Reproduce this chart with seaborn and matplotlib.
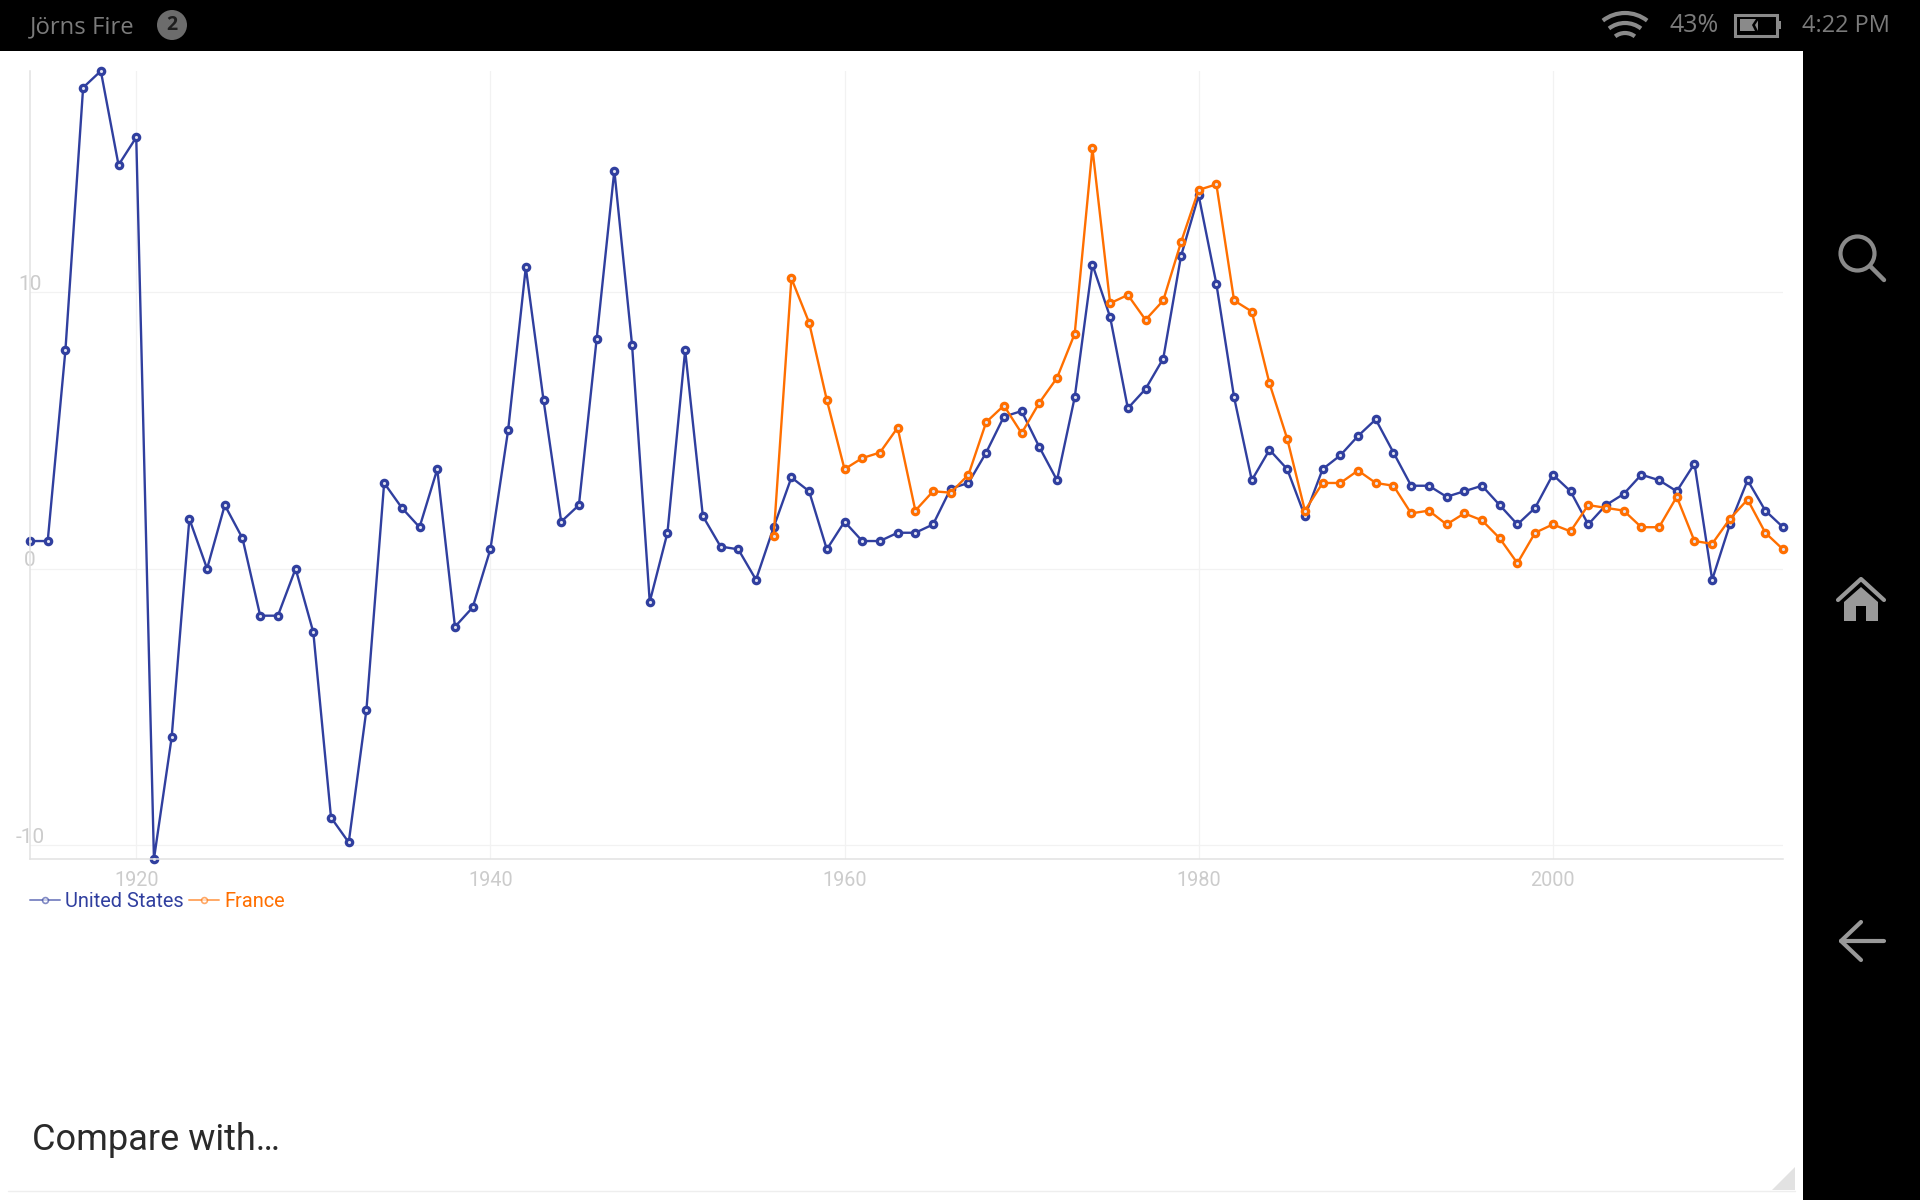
import pandas as pd
import seaborn as sns
import matplotlib.pyplot as plt
from matplotlib.patches import Arc, Circle, Polygon, Rectangle
from matplotlib.transforms import ScaledTranslation

# Valores
us_years = list(range(1914, 2014))
us_values = [
    1.0, 1.0, 7.9, 17.4, 18.0, 14.6, 15.6, -10.5, -6.1, 1.8,
    0.0, 2.3, 1.1, -1.7, -1.7, 0.0, -2.3, -9.0, -9.9, -5.1,
    3.1, 2.2, 1.5, 3.6, -2.1, -1.4, 0.7, 5.0, 10.9, 6.1,
    1.7, 2.3, 8.3, 14.4, 8.1, -1.2, 1.3, 7.9, 1.9, 0.8,
    0.7, -0.4, 1.5, 3.3, 2.8, 0.7, 1.7, 1.0, 1.0, 1.3,
    1.3, 1.6, 2.9, 3.1, 4.2, 5.5, 5.7, 4.4, 3.2, 6.2,
    11.0, 9.1, 5.8, 6.5, 7.6, 11.3, 13.5, 10.3, 6.2, 3.2,
    4.3, 3.6, 1.9, 3.6, 4.1, 4.8, 5.4, 4.2, 3.0, 3.0,
    2.6, 2.8, 3.0, 2.3, 1.6, 2.2, 3.4, 2.8, 1.6, 2.3,
    2.7, 3.4, 3.2, 2.8, 3.8, -0.4, 1.6, 3.2, 2.1, 1.5,
]
fr_years = list(range(1956, 2014))
fr_values = [
    1.2, 10.5, 8.9, 6.1, 3.6, 4.0, 4.2, 5.1, 2.1, 2.8,
    2.75, 3.4, 5.3, 5.9, 4.9, 6.0, 6.9, 8.5, 15.2, 9.6,
    9.9, 9.0, 9.7, 11.8, 13.7, 13.9, 9.7, 9.3, 6.7, 4.7,
    2.1, 3.1, 3.1, 3.55, 3.1, 3.0, 2.0, 2.1, 1.6, 2.0,
    1.75, 1.1, 0.2, 1.3, 1.6, 1.35, 2.3, 2.2, 2.1, 1.5,
    1.5, 2.6, 1.0, 0.9, 1.8, 2.5, 1.3, 0.7,
]
x_ticks = [1920, 1940, 1960, 1980, 2000]
y_ticks = [-10, 0, 10]
countries = ["United States", "France"]
colors = ["#303f9f", "#ff6f00"]

dados = pd.DataFrame({
    "Year": us_years + fr_years,
    "Value": us_values + fr_values,
    "Country": [countries[0]] * len(us_years) + [countries[1]] * len(fr_years),
})

sns.set_theme(style="white")
plt.rcParams["font.family"] = ["Roboto", "DejaVu Sans"]
plt.rcParams["axes.unicode_minus"] = False

fig = plt.figure(figsize=(19.2, 12), dpi=100, facecolor="white")
ax = fig.add_axes([30 / 1920, (1200 - 859) / 1200, (1783 - 30) / 1920, (859 - 71) / 1200])

sns.lineplot(
    data=dados, x="Year", y="Value", hue="Country", hue_order=countries,
    palette=colors, marker="o", markersize=4.6, markerfacecolor="#dfe1f0",
    markeredgewidth=2.3, linewidth=1.7, estimator=None, errorbar=None, ax=ax,
)
for line, cor in zip(ax.get_lines(), colors):
    line.set_markeredgecolor(cor)
    line.set_clip_on(False)

ax.set_xlim(1914, 2013)
ax.set_ylim(-10.5, 18)
ax.set_xlabel("")
ax.set_ylabel("")
ax.set_xticks(x_ticks)
ax.set_yticks(y_ticks)
ax.grid(True, color="#f2f2f2", linewidth=0.9)
ax.set_axisbelow(True)
for lado in ["top", "right"]:
    ax.spines[lado].set_visible(False)
for lado in ["left", "bottom"]:
    ax.spines[lado].set_color("#e2e2e2")
    ax.spines[lado].set_linewidth(1.1)
ax.tick_params(axis="x", length=4.3, width=0.9, color="#e6e6e6", pad=4,
               labelsize=14.3, labelcolor="#cccccc")
ax.tick_params(axis="y", length=0, pad=0, labelsize=15, labelcolor="#cccccc")
plt.setp(ax.get_yticklabels(), ha="center", va="baseline")
# Rótulos do eixo y um pouco acima da grade
for rotulo in ax.get_yticklabels():
    rotulo.set_transform(rotulo.get_transform() + ScaledTranslation(0, 2.5 / 100, fig.dpi_scale_trans))

# Legenda abaixo do eixo, em duas colunas
handles, labels = ax.get_legend_handles_labels()
leg = ax.legend(
    handles, labels, ncol=2, frameon=False, fontsize=14.4, labelcolor=colors,
    loc="upper left", bbox_to_anchor=(0, -0.0415), borderaxespad=0, borderpad=0,
    handlelength=1.5, handletextpad=0.27, columnspacing=0.27,
)
for linha, cor in zip(leg.get_lines(), colors):
    linha.set_alpha(0.6)
    linha.set_marker("o")
    linha.set_markersize(4.2)
    linha.set_markerfacecolor("white")
    linha.set_markeredgecolor(cor)
    linha.set_markeredgewidth(1.2)
    linha.set_linewidth(1.4)

# Camada da interface em pixels da tela
ui = fig.add_axes([0, 0, 1, 1], zorder=3)
ui.set_xlim(0, 1920)
ui.set_ylim(1200, 0)
ui.axis("off")
ui.patch.set_alpha(0)

CINZA = "#8a8a8a"
ui.add_patch(Rectangle((0, 0), 1920, 51, color="black", lw=0))
ui.add_patch(Rectangle((1803, 0), 117, 1200, color="black", lw=0))

ui.text(30, 27, "Jörns Fire", color="#7b7b7b", fontsize=17.2, family="Open Sans", va="center")
ui.add_patch(Circle((172, 25), 15, color="#6c6c6c", lw=0))
ui.text(172, 25, "2", color="#1e1e1e", fontsize=14, family="Open Sans", weight="bold",
        ha="center", va="center")
ui.text(1670, 26, "43%", color="#7b7b7b", fontsize=18, family="Open Sans", va="center")
ui.text(1802, 26, "4:22 PM", color="#7b7b7b", fontsize=17, family="Open Sans", va="center")

for raio in [36, 26, 16]:
    ui.add_patch(Arc((1625, 49), raio * 2, raio * 2, theta1=232, theta2=308,
                     color=CINZA, lw=3))
ui.add_patch(Rectangle((1734.5, 14.5), 42, 21, fill=False, ec=CINZA, lw=2.2))
ui.add_patch(Rectangle((1778, 21), 3, 8, color=CINZA, lw=0))
ui.add_patch(Rectangle((1740, 19), 18, 12, color=CINZA, lw=0))
ui.add_patch(Polygon([(1756, 19), (1759, 19), (1755, 25), (1758, 31), (1755, 31), (1752, 25)],
                     color="black", lw=0))

ui.add_patch(Circle((1857.5, 253.5), 17, fill=False, ec=CINZA, lw=3))
ui.plot([1870, 1884], [266, 280], color=CINZA, lw=3.2, solid_capstyle="round")
ui.plot([1838, 1861, 1884], [600, 579, 600], color="#999999", lw=3)
ui.add_patch(Polygon([(1844, 621), (1844, 602), (1861, 587), (1878, 602), (1878, 621),
                      (1866, 621), (1866, 606), (1856, 606), (1856, 621)],
                     color="#999999", lw=0))
ui.plot([1884, 1841], [941, 941], color="#999999", lw=3)
ui.plot([1861, 1841, 1861], [922, 941, 960], color="#999999", lw=3)

ui.text(32, 1140, "Compare with…", color="#2a2a2a", fontsize=26, va="center")
ui.plot([8, 1795], [1191, 1191], color="#eeeeee", lw=1)
ui.add_patch(Polygon([(1772, 1190), (1795, 1167), (1795, 1190)], color="#e2e2e2", lw=0))

plt.savefig("out.png", dpi=100)
